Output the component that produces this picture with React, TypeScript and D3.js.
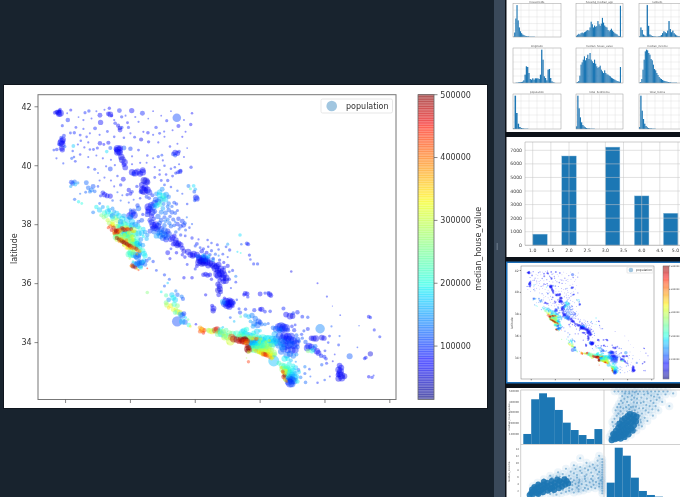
import React from "react";
import * as d3 from "d3";

type Row = number[]; // longitude, latitude, population (hundreds), median_house_value (thousands)

const latTicks = [34, 36, 38, 40, 42];
const lonTicks = [-124, -122, -120, -118, -116, -114];
const cbTicks = [100000, 200000, 300000, 400000, 500000];

const northSparse: Row[] = [
  [-124.22,41.81,40,70],[-124.16,41.78,60,65],[-124.2,41.76,50,75],[-124.17,41.91,15,80],[-124.33,41.8,20,75],[-124.27,41.82,30,60],[-124.19,41.85,20,70],
  [-123.84,41.89,12,80],[-123.4,41.8,12,85],[-123.28,41.86,15,90],[-122.94,41.71,30,75],[-122.92,41.47,35,70],[-122.65,41.95,14,80],[-122.68,41.76,30,70],[-122.62,41.74,40,65],[-122.58,41.7,14,80],
  [-122.34,41.87,28,85],[-122.27,41.66,14,90],[-121.96,41.87,35,80],[-121.63,41.78,30,85],[-120.57,41.63,90,105],[-120.1,41.78,8,80],[-120.52,41.35,20,80],[-120.14,41.4,14,75],[-120.88,41.53,12,85],
  [-121.21,41.3,14,85],[-121.75,41.49,6,90],[-122.09,41.46,10,80],[-122.47,41.44,16,85],[-122.38,41.36,22,75],[-122.32,41.21,30,65],[-122.33,41.28,24,60],[-122.26,41.3,12,90],[-123.93,41.55,25,85],
  [-124.1,41.36,12,90],[-123.68,41.3,10,85],[-123.73,41.12,14,90],[-123.85,41.11,10,90],[-123.09,41.27,18,85],[-122.71,41.16,10,90],[-122.06,41.3,12,85],[-121.46,41.12,16,80],[-121.1,41.1,10,85],
  [-120.96,41.16,6,90],[-121.67,40.89,22,60],[-121.87,40.97,10,85],[-121.44,40.81,14,80],[-121.14,40.79,6,85],[-120.4,40.98,6,80],[-123.55,41.04,10,85],[-123.53,40.85,8,90],[-123.3,40.79,6,85],
  [-122.94,40.76,25,70],[-122.68,40.78,22,75],[-122.82,40.72,10,80],[-123.25,40.55,8,90],[-123.14,40.55,10,90],[-123.02,40.6,12,85],[-122.73,40.48,16,180],[-122.62,40.6,20,105],[-122.2,40.6,30,110],[-122.0,40.58,25,100],
  [-121.75,40.53,10,85],[-121.95,40.32,6,90],[-121.48,40.35,8,85],[-121.14,40.31,14,95],[-121.03,40.36,10,100],[-121.0,40.18,6,85],[-120.78,40.65,8,85],[-120.5,40.05,6,90],[-120.13,39.95,14,85],[-120.47,39.8,28,85],[-120.6,39.75,14,90],
  [-120.7,39.65,10,85],[-121.1,39.85,6,90],[-121.25,39.95,6,85],[-123.76,40.67,18,170],[-123.78,40.5,8,95],[-123.81,40.25,12,110],[-123.7,40.15,10,90],[-123.74,40.3,8,95],[-124.07,40.08,6,95],[-124.28,40.25,6,90],
  [-123.3,39.95,8,90],[-123.1,39.88,12,95],[-122.62,39.89,30,100],[-122.4,39.65,8,90],[-122.8,39.6,6,90],[-122.3,39.35,14,85],[-121.1,39.7,8,85],[-120.85,39.5,14,90],
  [-124.12,40.82,60,75],[-124.08,40.88,45,80],[-124.15,40.78,55,70],[-124.1,40.74,50,80],[-124.13,40.95,20,90],[-124.05,41.02,18,85],[-124.12,40.6,40,75],[-124.1,40.54,35,80],[-124.2,40.72,16,90],[-124.36,40.53,10,95],[-124.27,40.55,16,85],[-124.02,40.65,12,110],
];

const northFine: Row[] = [
  [-123.95,41.78,4,85],[-123.6,41.65,4,90],[-123.45,41.55,6,85],[-123.2,41.6,5,85],[-123.05,41.85,5,90],[-122.8,41.9,5,85],[-122.5,41.55,6,85],[-122.15,41.7,5,90],[-121.85,41.65,5,85],[-121.45,41.6,4,90],[-121.3,41.85,4,85],[-121.05,41.7,4,85],[-120.75,41.85,4,90],[-120.35,41.55,5,85],[-120.7,41.2,5,85],[-120.3,41.15,5,80],[-120.95,40.98,5,85],[-121.3,41.05,6,85],[-121.6,41.15,6,80],[-122.0,41.1,6,85],[-122.2,40.95,8,90],[-122.5,40.98,8,85],[-122.95,41.05,6,90],[-123.25,41.1,6,85],[-123.45,41.25,6,90],[-123.35,40.98,8,85],[-123.62,40.72,6,90],[-123.42,40.62,6,85],[-123.55,40.38,8,85],[-123.3,40.3,5,90],[-123.05,40.35,5,90],[-122.85,40.25,6,85],[-122.6,40.2,6,90],[-122.48,40.02,6,85],[-122.75,39.98,6,90],[-123.0,39.75,5,95],[-122.95,39.5,6,90],[-122.6,39.5,6,85],[-122.5,39.3,5,85],[-121.95,40.05,6,85],[-121.7,40.1,6,85],[-121.5,40.1,5,90],[-121.3,40.25,6,85],[-120.95,40.0,8,90],[-120.75,39.9,8,85],[-120.9,39.7,8,85],[-120.35,40.3,5,85],[-120.25,40.6,4,90],[-120.55,40.75,5,85],[-121.25,39.6,10,90],[-121.05,39.5,10,85],[-120.95,39.35,10,100],[-120.75,39.28,8,95],[-120.55,39.15,8,110],[-120.4,39.05,6,100],[-123.0,39.3,8,95],[-123.55,39.05,6,120],[-122.55,38.82,8,110],[-122.3,38.82,6,110],[-122.05,38.75,6,100],[-122.25,39.0,5,100],[-121.9,38.85,5,100],[-121.7,38.9,8,90],
];

const northDense: Row[] = [
  [-122.4,40.58,70,70],[-122.36,40.52,80,65],[-122.4,40.46,60,80],[-122.33,40.45,50,75],[-122.44,40.55,30,80],[-122.32,40.6,40,70],[-122.28,40.3,50,65],[-122.25,40.2,60,60],[-122.18,40.12,50,70],[-122.2,40.03,30,70],[-122.16,39.94,40,75],[-122.22,39.54,30,65],
  [-121.95,39.78,50,80],[-121.85,39.75,60,70],[-121.78,39.8,50,75],[-121.7,39.73,45,80],[-121.62,39.78,55,70],[-121.62,39.85,40,80],[-121.9,39.72,30,85],[-121.58,39.5,60,55],[-121.52,39.48,65,60],[-121.48,39.44,45,65],[-121.65,39.35,40,70],
  [-121.62,39.18,75,65],[-121.58,39.14,80,60],[-121.55,39.25,60,70],[-121.48,39.18,60,70],[-121.42,39.1,45,85],[-121.68,39.12,25,85],[-122.05,39.18,25,70],[-122.0,39.05,20,75],[-121.8,39.3,14,85],[-121.95,39.12,16,85],[-122.1,39.02,14,90],
  [-123.82,39.44,30,100],[-123.78,39.4,30,110],[-123.72,39.46,24,120],[-123.7,39.36,20,160],[-123.62,39.42,12,140],[-123.84,39.3,14,150],[-123.36,39.42,30,120],[-123.2,39.18,30,130],[-123.3,39.25,28,120],[-123.15,39.3,30,110],[-123.25,39.12,18,130],[-123.1,39.13,16,120],[-123.38,39.1,10,115],
  [-122.85,39.08,28,85],[-122.8,39.02,35,70],[-122.72,38.98,32,75],[-122.62,38.97,32,70],[-122.92,38.98,14,90],[-122.4,39.1,6,110],[-123.6,38.78,14,190],[-123.72,38.86,14,115],[-123.5,38.72,10,200],
  [-120.21,39.31,20,130],[-120.05,39.32,18,180],[-120.0,39.2,16,160],[-120.15,39.22,12,220],[-120.03,39.12,18,110],[-119.98,38.92,45,85],[-119.95,38.88,40,90],[-120.02,38.82,14,105],[-120.25,38.7,8,95],
  [-120.63,39.95,8,90],[-120.62,40.45,40,75],[-120.55,40.42,35,70],[-120.68,40.4,25,90],[-120.62,40.35,20,100],[-120.5,40.48,16,85],[-120.45,39.83,18,85],[-120.53,39.78,18,85],
];

const sierraFoothills: Row[] = [
  [-121.5,38.95,20,100],[-121.42,38.9,16,90],[-121.32,39.0,20,95],[-121.2,39.05,25,140],[-121.1,39.1,35,170],[-121.02,39.2,30,140],[-121.1,39.0,45,180],[-120.98,38.98,50,190],[-120.9,39.02,40,150],[-120.82,38.95,25,130],[-121.0,38.88,45,220],[-120.92,38.85,40,170],[-121.08,38.85,45,160],[-121.15,38.78,50,130],[-121.22,38.85,40,110],[-121.25,38.72,60,100],[-121.35,38.65,60,90],[-121.45,38.6,70,75],[-121.42,38.52,65,80],[-121.3,38.6,60,115],[-121.2,38.65,45,180],[-121.1,38.7,40,210],
  [-121.33,38.42,55,85],[-121.45,38.45,45,75],[-121.48,38.35,35,85],[-121.25,38.45,30,100],[-121.35,38.3,35,80],[-121.28,38.2,25,90],[-121.4,38.15,30,85],
  [-122.02,38.3,65,85],[-121.95,38.38,60,80],[-121.88,38.32,60,90],[-121.9,38.45,40,95],[-121.75,38.55,35,120],[-121.78,38.65,24,100],[-122.0,38.5,14,110],[-121.65,38.15,28,110],[-121.75,38.1,22,115],[-121.62,38.35,12,90],
  [-121.22,38.0,60,80],[-121.3,37.98,65,70],[-121.25,37.9,60,60],[-121.18,37.85,40,85],[-121.32,37.88,30,85],[-121.1,38.05,30,110],[-121.4,37.78,30,100],[-121.28,37.75,30,120],
  [-120.98,38.7,20,130],[-120.82,38.72,24,125],[-120.72,38.62,14,115],[-120.65,38.75,18,105],[-120.58,38.7,16,100],[-120.82,38.5,25,115],[-120.72,38.42,28,105],[-120.62,38.4,20,110],[-120.55,38.48,12,100],[-120.92,38.4,30,120],[-120.95,38.25,20,105],[-120.78,38.28,16,105],[-120.68,38.18,20,105],[-120.52,38.2,24,95],[-120.4,38.12,30,100],[-120.36,37.98,30,95],[-120.45,37.95,26,100],[-120.55,38.02,25,95],[-120.32,38.05,18,110],[-120.65,37.98,18,110],[-120.8,38.05,24,125],[-120.92,38.12,18,130],[-120.95,37.98,24,120],[-120.3,37.82,12,105],[-120.18,37.9,8,90],[-120.1,38.02,6,110],[-120.26,38.25,6,120],[-120.62,38.1,8,120],
  [-121.02,37.7,55,110],[-120.95,37.65,60,120],[-120.88,37.6,55,130],[-120.82,37.68,50,100],[-121.08,37.62,45,140],[-121.0,37.55,45,110],[-120.9,37.5,40,90],[-120.85,37.78,35,90],[-121.15,37.7,30,125],[-120.75,37.5,35,75],[-120.7,37.55,40,70],
  [-121.15,37.95,55,90],[-121.35,38.08,45,85],[-121.05,37.85,50,100],[-120.95,37.8,55,115],[-121.1,37.75,45,130],[-121.2,37.62,35,150],[-120.65,37.62,30,75],[-120.6,37.48,40,70],[-120.75,37.95,25,115],[-120.6,37.75,16,110],[-120.45,37.65,14,95],[-120.5,37.85,12,110],[-120.85,38.18,20,125],[-121.05,38.15,30,110],[-121.15,38.28,35,115],[-121.05,38.42,30,130],[-120.85,38.62,20,125],[-121.0,38.55,28,150],
];

const centralValley: Row[] = [
  [-120.6,37.38,55,70],[-120.52,37.36,50,65],[-120.55,37.3,45,60],[-120.45,37.32,40,75],[-120.4,37.2,30,70],[-120.68,37.34,28,70],[-120.35,37.1,30,60],[-120.22,37.08,50,65],[-120.15,36.98,45,70],[-120.05,37.0,55,70],[-120.08,36.95,45,65],[-120.32,36.9,16,70],[-120.58,37.05,16,70],[-120.75,37.18,10,90],[-120.85,37.05,30,80],[-120.78,36.85,12,75],[-120.4,36.98,14,80],
  [-119.95,36.98,45,75],[-119.88,36.88,50,70],[-119.85,36.8,75,60],[-119.78,36.78,90,60],[-119.72,36.8,80,65],[-119.8,36.72,90,55],[-119.72,36.72,75,60],[-119.65,36.74,70,70],[-119.9,36.72,55,65],[-119.78,36.85,70,90],[-119.7,36.86,60,100],[-119.62,36.82,50,110],[-119.55,36.7,55,70],[-119.6,36.62,45,75],[-119.48,36.66,60,60],[-119.42,36.6,60,65],[-119.34,36.58,50,70],[-119.28,36.65,40,75],[-119.38,36.52,70,60],[-119.3,36.45,50,65],[-119.22,36.5,60,70],[-119.15,36.42,50,60],[-119.22,36.35,75,65],[-119.32,36.33,80,60],[-119.28,36.27,70,70],[-119.12,36.3,60,65],[-119.05,36.2,55,65],[-119.15,36.2,60,65],[-119.06,36.1,50,60],[-119.13,36.08,40,65],[-119.25,36.1,25,70],[-119.68,36.32,30,70],[-119.75,36.3,24,75],[-119.62,36.28,30,70],[-119.55,36.3,25,70],[-120.0,36.5,12,90],[-120.25,36.65,10,85],[-119.95,36.6,20,75],[-119.5,36.15,14,65],[-120.35,36.2,14,75],[-120.1,36.2,16,70],
  [-119.3,35.98,35,60],[-119.25,35.92,40,70],[-119.24,35.82,45,60],[-119.3,35.78,40,55],[-119.22,35.72,30,60],[-119.28,35.62,28,70],[-119.44,35.16,45,65],[-119.45,35.08,35,60],[-119.48,35.25,20,70],[-119.68,35.62,14,75],[-119.1,35.5,16,80],[-119.05,35.38,85,70],[-118.98,35.33,90,65],[-119.02,35.28,80,70],[-118.92,35.33,80,60],[-118.88,35.38,60,75],[-118.95,35.4,70,80],[-119.1,35.32,60,95],[-119.15,35.38,40,150],[-118.95,35.22,50,75],[-118.85,35.25,25,80],[-118.8,35.35,18,85],[-118.72,35.45,8,95],
  [-118.65,35.15,12,90],[-118.45,35.13,14,95],[-118.46,35.67,30,70],[-118.4,35.65,28,70],[-118.5,35.62,16,80],[-118.38,35.55,14,85],[-118.2,36.67,12,90],[-118.08,36.67,14,95],[-118.33,36.97,14,85],[-118.3,36.82,8,90],[-118.41,37.36,20,85],[-118.37,37.34,20,85],[-118.62,37.65,16,180],[-118.58,37.34,8,110],[-118.94,37.14,14,90],[-119.0,37.34,12,150],[-119.32,37.32,12,85],[-119.15,37.0,10,95],[-119.05,37.25,10,100],
  [-119.62,37.48,8,90],[-119.5,37.38,8,95],[-119.9,37.5,6,85],[-119.28,36.95,6,130],[-119.0,36.9,6,90],[-118.7,37.08,6,180],[-118.6,37.04,4,200],[-119.72,36.98,14,95],[-119.55,36.98,16,100],[-119.38,37.0,12,110],[-119.5,37.12,12,95],[-119.28,37.16,8,95],[-119.75,37.18,14,90],[-119.85,37.22,10,100],[-120.0,37.28,12,100],[-118.9,35.85,6,90],[-118.75,36.25,12,130],[-118.95,36.4,10,95],[-118.95,36.15,14,85],
  [-118.0,35.65,30,75],[-117.71,35.64,35,65],[-117.67,35.6,30,70],[-117.75,35.68,20,85],[-117.85,35.68,12,85],[-117.95,35.13,35,70],[-118.0,35.13,24,80],[-118.18,35.1,22,85],[-117.85,35.05,16,85],[-117.69,35.06,16,90],
  [-120.31,37.62,10,90],[-120.1,37.55,14,85],[-119.95,37.35,18,90],[-119.8,37.1,25,75],[-119.65,37.05,20,80],[-119.6,37.25,8,90],[-119.45,36.85,16,90],[-119.25,36.8,14,85],[-119.12,36.72,12,80],[-119.0,36.6,22,75],[-118.85,36.45,12,90],[-118.75,36.05,10,90],[-119.1,36.55,16,85],[-119.92,36.92,30,120],[-119.6,36.92,25,170],[-119.75,36.95,25,160],[-119.45,36.8,20,140],
];

const mojaveEast: Row[] = [
  [-117.28,35.16,20,90],[-117.2,34.95,40,70],[-117.08,34.9,55,65],[-117.0,34.9,40,60],[-116.98,35.0,16,95],[-116.85,35.03,25,85],[-116.7,34.88,18,90],[-116.53,34.86,14,100],[-116.53,34.46,20,85],[-116.15,34.47,110,135],[-116.35,34.14,45,60],[-116.28,34.14,50,65],[-116.42,34.15,35,65],[-116.1,34.17,40,60],[-116.03,34.15,35,65],[-115.86,34.22,10,85],[-115.8,34.55,6,110],[-116.5,33.88,60,70],[-116.55,33.82,55,85],[-116.42,33.85,50,90],[-116.35,33.78,45,110],[-116.25,33.71,50,75],[-116.2,33.65,40,70],[-116.4,33.72,35,200],[-116.52,33.72,30,260],[-116.3,33.88,25,120],[-116.12,33.55,25,85],[-116.02,33.52,22,90],[-115.97,33.45,16,85],[-115.76,33.37,5,60],[-115.95,33.3,12,90],[-116.1,33.25,14,110],[-115.58,33.92,10,95],[-115.55,34.22,6,110],[-115.24,33.54,45,115],[-115.0,33.84,4,100],[-114.6,33.62,35,55],[-114.74,33.49,16,80],[-114.78,33.46,14,85],[-114.65,34.88,18,80],[-114.6,34.85,14,85],[-114.48,34.43,12,85],[-114.31,34.2,12,90],[-114.95,34.57,3,100],[-115.53,34.93,4,90],[-115.77,35.24,2,90],[-115.94,35.56,6,85],[-116.23,36.01,5,70],[-117.04,36.41,8,60],[-115.55,33.22,40,80],[-115.5,33.15,45,70],[-115.58,33.08,55,65],[-115.52,33.02,60,70],[-115.55,32.95,55,70],[-115.5,32.88,70,65],[-115.48,32.8,60,70],[-115.58,32.78,50,60],[-115.4,32.86,40,60],[-115.6,32.9,30,75],[-114.65,32.84,16,80],[-114.55,32.82,14,85],[-114.5,32.88,5,90],[-116.01,32.73,8,105],[-116.23,32.64,8,90],[-115.85,32.85,5,85],[-116.45,32.85,5,110],[-116.6,32.65,16,120],[-116.75,32.82,16,130],[-116.62,32.95,12,110],[-116.82,33.07,18,115],[-116.62,33.18,14,130],[-116.48,33.1,8,100],[-116.9,33.35,6,140],
  [-116.0,33.72,10,90],[-115.7,33.6,4,85],[-115.9,34.0,8,90],[-116.7,34.15,14,110],[-116.72,34.28,14,95],[-116.6,34.02,25,110],[-116.8,34.05,18,120],[-116.88,34.25,20,115],[-116.65,34.4,12,100],[-116.95,34.42,22,85],[-117.02,34.55,16,85],[-116.92,34.6,10,90],
];

const socalBlue: Row[] = [
  [-117.42,34.52,90,85],[-117.35,34.53,110,90],[-117.28,34.5,100,85],[-117.2,34.5,70,85],[-117.5,34.45,60,110],[-117.32,34.45,60,95],[-117.4,34.42,40,130],[-117.6,34.5,30,120],[-117.15,34.42,30,95],
  [-118.62,35.02,22,100],[-118.45,34.92,25,160],[-118.35,34.88,30,170],[-118.25,34.92,35,130],[-118.15,34.82,35,125],[-118.05,34.72,40,110],[-118.18,34.65,45,130],[-118.08,34.6,50,120],[-118.0,34.68,30,105],[-118.3,34.72,16,150],[-118.22,34.55,28,150],[-117.95,34.62,22,120],[-117.85,34.62,18,130],[-117.75,34.65,12,115],
  [-117.55,34.28,50,160],[-117.4,34.22,70,100],[-117.25,34.22,80,85],[-117.15,34.18,90,75],[-117.05,34.2,80,85],[-117.3,34.12,100,90],[-117.18,34.1,90,85],[-117.08,34.1,80,90],[-116.97,34.06,70,95],[-116.85,34.1,40,110],[-116.9,33.98,70,85],[-116.98,33.92,90,100],[-117.05,33.95,70,110],[-117.12,33.93,90,105],[-117.25,33.98,85,110],[-117.35,34.02,75,130],[-117.22,33.88,70,95],[-117.28,33.78,60,100],[-117.15,33.75,50,95],[-117.02,33.75,70,90],[-116.92,33.75,60,85],[-116.85,33.85,30,110],[-117.08,33.62,50,115],[-117.18,33.58,55,125],[-116.98,33.55,40,130],[-117.35,33.7,50,120],[-117.42,33.92,70,130],[-117.48,34.0,65,150],[-117.55,34.05,60,190],[-117.32,33.85,55,145],[-117.25,33.45,45,190],[-117.15,33.45,30,185],[-117.05,33.4,18,165],[-116.88,33.6,20,140],
  [-118.1,34.38,40,170],[-118.2,34.33,30,190],[-118.0,34.4,16,180],[-118.42,34.45,35,200],[-118.5,34.4,50,190],[-118.55,34.35,50,180],
];

const socalMid: Row[] = [
  [-118.8,34.72,8,165],[-118.92,34.85,10,110],[-119.15,34.52,8,170],[-119.25,34.38,40,210],[-119.1,34.25,60,220],[-119.0,34.2,70,230],[-118.85,34.28,60,230],[-118.72,34.28,70,210],[-118.58,34.25,80,210],[-118.45,34.25,90,190],[-118.35,34.22,80,170],[-118.25,34.2,70,190],[-118.15,34.18,60,230],[-118.05,34.17,55,190],[-117.92,34.15,80,200],[-117.8,34.12,85,180],[-117.72,34.12,80,190],[-117.62,34.1,80,170],[-117.5,34.12,60,140],[-117.95,34.07,85,170],[-118.05,34.07,90,190],[-118.15,34.05,95,180],[-118.25,34.05,95,160],[-118.32,34.05,90,210],[-118.42,34.05,70,260],[-118.55,34.17,90,230],[-118.65,34.17,60,260],[-118.4,34.15,70,260],[-118.3,34.12,60,300],
  [-118.3,33.95,100,150],[-118.22,33.95,100,135],[-118.12,33.95,95,165],[-118.02,33.95,90,180],[-117.92,33.95,90,200],[-117.82,33.95,85,230],[-117.72,33.98,80,200],[-117.62,33.98,75,170],[-118.25,33.85,95,170],[-118.15,33.85,90,190],[-118.05,33.85,90,210],[-117.95,33.85,90,230],[-117.85,33.85,90,240],[-117.75,33.85,70,290],[-117.65,33.88,60,240],[-118.3,33.78,65,250],[-118.18,33.78,80,230],[-118.08,33.76,80,260],[-117.98,33.75,95,240],[-117.88,33.75,105,220],[-117.78,33.75,85,280],[-117.68,33.72,60,300],[-117.6,33.65,70,270],[-117.72,33.62,70,310],[-117.82,33.66,75,310],[-117.92,33.68,75,320],[-118.0,33.7,50,310],[-117.62,33.55,50,320],[-117.55,33.6,30,260],[-117.58,33.38,150,165],
  [-117.42,33.3,30,220],[-117.32,33.22,50,230],[-117.25,33.18,60,200],[-117.18,33.15,50,220],[-117.3,33.1,60,270],[-117.22,33.08,70,240],[-117.15,33.08,70,210],[-117.05,33.1,60,200],[-116.98,33.02,60,180],[-117.15,33.0,70,230],[-117.25,33.0,60,320],[-117.1,32.95,75,190],[-117.02,32.9,50,170],[-116.92,32.95,30,160],[-117.18,32.9,70,240],[-117.12,32.85,70,180],[-117.05,32.8,75,140],[-116.95,32.8,70,150],[-116.88,32.85,40,175],[-117.18,32.78,70,230],[-117.1,32.75,80,120],[-117.02,32.72,85,110],[-116.95,32.7,60,120],[-117.12,32.68,75,100],[-117.08,32.62,90,90],[-117.02,32.6,60,110],[-116.85,32.68,25,190],[-116.8,33.0,20,180],[-116.9,33.15,30,170],[-116.98,33.22,24,190],[-117.1,33.28,30,190],
  [-118.6,34.88,10,240],[-119.45,34.42,5,200],[-119.0,33.98,3,270],
];

const centralCoast: Row[] = [
  [-121.72,36.75,25,135],[-121.62,36.72,30,160],[-121.55,36.65,25,120],[-121.42,36.85,18,130],[-121.3,36.75,14,100],[-121.2,36.45,10,100],[-120.95,36.3,14,100],[-120.8,36.15,12,105],
  [-120.85,36.02,8,170],[-121.05,35.72,10,190],[-120.95,35.92,12,110],[-121.48,35.7,16,260],[-120.9,35.6,22,230],[-120.82,35.45,28,145],[-120.72,35.62,35,170],[-120.68,35.52,40,190],[-120.62,35.45,40,175],[-120.55,35.62,25,120],[-120.42,35.56,22,130],[-120.38,35.48,22,110],[-120.6,35.75,14,130],[-120.9,35.35,30,250],[-120.88,35.28,32,290],[-120.75,35.25,30,330],[-120.65,35.3,35,210],[-120.55,35.25,30,260],[-120.82,35.18,18,340],[-120.68,35.12,30,320],[-120.6,35.12,25,300],[-120.55,35.05,40,280],[-120.48,35.02,40,330],[-120.62,35.02,28,230],[-120.45,34.95,45,160],[-120.4,34.92,45,120],[-120.35,34.98,30,100],[-120.3,34.85,12,180],[-120.56,34.72,130,105],[-120.4,34.72,50,170],[-120.32,34.7,40,120],[-120.2,34.6,25,210],[-120.22,34.78,8,240],
];

const santaBarbara: Row[] = [
  [-119.98,34.62,8,70],[-120.15,34.55,8,330],[-119.85,34.5,30,370],[-119.8,34.45,35,400],[-119.78,34.42,40,340],[-119.72,34.42,25,430],[-119.85,34.38,24,420],[-119.75,34.33,16,450],[-119.6,34.42,30,280],[-119.55,34.4,40,300],[-119.48,34.38,40,330],[-119.42,34.42,40,250],[-119.38,34.42,50,440],[-119.33,34.45,45,470],[-119.3,34.35,25,360],[-119.22,34.42,45,200],[-119.2,34.3,60,180],[-119.3,34.3,50,240],[-119.15,34.35,50,290],[-119.05,34.42,30,230],[-119.1,34.18,50,300],[-118.95,34.32,40,260],[-118.88,34.18,60,420],[-118.92,34.05,95,310],[-118.82,34.12,60,480],[-118.72,34.1,50,500],[-118.65,34.05,40,470],[-118.6,34.1,50,470],
];

const socalRed: Row[] = [
  [-118.52,34.07,60,500],[-118.48,34.12,50,490],[-118.45,34.1,40,500],[-118.4,34.07,35,500],[-118.55,34.05,50,480],[-118.48,34.02,50,430],[-118.42,33.98,30,370],[-118.4,34.03,35,420],[-118.4,33.88,30,460],[-118.36,33.82,40,500],[-118.4,33.78,50,490],[-118.32,33.75,30,450],[-118.38,33.72,35,500],[-118.35,33.68,18,300],
  [-118.25,34.12,16,340],[-118.18,34.15,20,350],[-118.12,34.12,20,430],[-118.08,34.15,16,370],[-117.98,34.12,16,320],[-118.02,34.02,16,300],[-117.82,34.02,12,300],[-117.72,34.07,12,330],[-118.2,33.75,16,320],[-118.12,33.72,20,360],[-118.05,33.68,18,340],[-117.98,33.66,20,350],[-117.9,33.62,28,420],[-117.85,33.6,28,470],[-117.82,33.58,25,440],[-117.92,33.58,14,380],[-117.78,33.55,22,420],[-117.7,33.5,22,400],[-117.65,33.46,18,340],[-117.75,33.62,16,360],[-117.68,33.55,20,340],[-117.62,33.48,14,330],
  [-118.36,33.35,14,430],[-118.42,33.48,3,280],
  [-117.3,33.02,18,440],[-117.28,32.98,14,400],[-117.25,32.88,22,500],[-117.28,32.84,25,470],[-117.25,32.78,18,400],[-117.22,32.72,14,350],[-117.18,32.68,10,390],[-117.22,32.95,16,340],[-117.2,33.05,14,320],[-117.35,33.15,12,340],
];

const bayBase: Row[] = [
  [-123.15,38.42,18,130],[-123.05,38.6,25,190],[-122.95,38.5,35,170],[-122.85,38.6,20,150],[-122.95,38.72,10,120],[-122.8,38.4,35,210],[-122.7,38.45,40,180],[-122.75,38.3,30,230],[-122.6,38.35,40,200],[-122.65,38.5,25,160],[-122.55,38.3,40,130],[-122.5,38.45,20,150],[-122.82,38.25,25,260],[-122.9,38.32,20,250],[-122.7,38.6,14,200],[-122.55,38.55,18,140],[-122.42,38.38,35,170],
  [-122.55,38.2,30,200],[-122.45,38.25,35,240],[-122.4,38.15,40,280],[-122.55,38.1,30,300],[-122.35,38.3,40,180],[-122.25,38.2,45,190],[-122.2,38.05,40,230],[-122.1,38.15,50,170],[-122.0,38.25,40,140],[-121.95,38.1,45,170],[-122.3,38.0,50,180],[-122.3,38.1,40,150],[-122.2,38.3,30,150],
  [-122.15,37.98,50,210],[-122.05,37.95,50,190],[-121.95,37.98,45,160],[-121.85,38.0,45,140],[-121.78,37.95,40,170],[-121.72,37.88,30,210],[-122.0,37.88,50,220],[-121.9,37.82,50,280],[-122.1,37.8,50,260],[-122.2,37.78,60,150],[-122.15,37.7,65,200],[-122.05,37.68,70,190],[-121.95,37.68,60,240],[-121.85,37.7,60,220],[-121.75,37.7,50,170],[-121.65,37.72,40,170],[-121.55,37.75,25,150],[-121.6,37.6,14,190],[-122.25,37.72,60,170],[-122.15,37.6,70,210],[-122.05,37.58,70,230],[-121.95,37.55,70,260],[-122.0,37.48,50,280],
  [-122.45,37.72,60,300],[-122.42,37.66,65,270],[-122.38,37.62,60,260],[-122.45,37.58,50,240],[-122.3,37.55,60,290],[-122.42,37.5,30,300],[-122.25,37.48,50,310],[-122.18,37.42,50,350],[-122.1,37.38,55,290],[-122.02,37.35,60,320],[-121.92,37.42,70,270],[-121.85,37.38,75,210],[-121.9,37.32,70,240],[-121.82,37.3,80,190],[-121.75,37.25,65,180],[-121.95,37.25,70,290],[-122.05,37.25,40,370],[-121.85,37.22,65,250],[-121.7,37.35,25,130],[-121.62,37.12,35,200],[-121.58,37.02,40,180],[-121.7,37.15,30,230],[-121.55,36.95,35,190],[-122.0,37.15,35,280],[-122.12,37.22,20,330],[-121.88,37.12,30,280],[-122.2,37.3,14,340],
  [-122.05,37.0,50,220],[-121.98,36.98,55,210],[-121.9,36.98,50,170],[-121.82,36.95,60,140],[-121.78,36.9,60,120],[-122.02,37.05,35,210],[-121.75,36.98,45,115],[-121.72,37.02,30,160],[-121.92,37.05,30,260],[-121.88,36.65,55,140],[-121.82,36.62,60,170],[-121.78,36.68,50,110],[-121.72,36.7,40,120],[-121.65,36.72,45,100],[-121.7,36.62,45,130],[-121.58,36.78,30,170],[-121.92,36.75,8,200],[-122.02,36.85,8,280],[-121.68,36.55,25,190],[-121.5,36.78,20,105],
  [-122.7,38.15,25,300],[-122.65,38.05,30,280],[-122.55,38.02,30,320],[-122.45,37.95,35,300],[-122.38,37.95,35,250],[-122.32,37.92,40,200],[-122.3,37.85,50,220],[-122.4,37.75,50,270],[-122.2,37.88,40,280],[-122.12,37.9,30,330],
  [-122.25,37.62,45,250],[-122.1,37.55,45,260],[-122.12,37.7,40,230],[-121.98,37.42,45,240],[-121.8,37.5,40,200],[-121.78,37.35,50,170],[-121.68,37.5,30,140],[-121.62,37.3,30,150],[-121.5,37.52,25,160],[-121.48,37.65,25,140],[-121.6,37.85,25,180],
];

const bayRed: Row[] = [
  [-122.55,37.97,22,340],[-122.62,37.95,20,420],[-122.52,37.9,24,480],[-122.68,37.9,14,430],[-122.58,37.82,20,460],[-122.48,37.78,35,420],[-122.42,37.76,40,470],[-122.38,37.78,35,440],[-122.44,37.8,30,500],[-122.34,37.82,30,420],[-122.26,37.88,25,450],[-122.22,37.84,30,500],[-122.16,37.82,25,440],[-122.1,37.85,22,460],[-122.05,37.83,22,420],[-121.98,37.85,20,480],[-121.94,37.78,18,350],[-122.3,37.78,20,350],[-122.5,37.7,14,430],
  [-122.42,37.55,22,480],[-122.35,37.5,25,500],[-122.3,37.47,25,490],[-122.25,37.43,28,500],[-122.2,37.4,28,500],[-122.15,37.38,28,480],[-122.1,37.34,25,500],[-122.05,37.3,25,470],[-122.0,37.27,28,480],[-121.95,37.23,25,440],[-121.88,37.22,22,420],[-121.82,37.18,22,470],[-121.78,37.13,22,400],[-121.72,37.1,18,380],[-122.28,37.52,18,360],[-122.35,37.42,10,380],[-122.22,37.3,8,300],[-122.12,37.48,16,380],
  [-122.18,37.65,18,310],[-122.05,37.72,18,330],[-121.88,37.78,16,340],[-121.95,37.6,18,320],[-121.92,37.48,18,330],[-122.0,37.2,10,360],[-121.8,37.0,10,360],[-121.95,36.62,25,420],[-121.92,36.58,25,500],[-121.85,36.55,20,460],[-121.98,36.6,12,380],[-121.8,36.5,10,340],[-121.75,36.46,6,430],[-121.48,36.52,4,450],
];

const rowsByLayer: Row[][] = [northSparse, northFine, northDense, sierraFoothills, centralValley, mojaveEast, socalBlue, socalMid, bayBase, centralCoast, santaBarbara, socalRed, bayRed];
const housing: Row[] = rowsByLayer.flat();

// histogram panels (percent of the tallest bar, read from the thumbnails)
const histTitles = ["households","housing_median_age","latitude","longitude","median_house_value","median_income","population","total_bedrooms","total_rooms"];
const histHouseholds = [1,14,58,100,52,30,18,12,8,6,4,3,2,2,1,1,1,1,1,0,0,0,0,0,0,0,0,0,0,0,0,0,0,0,0,0,0,0,0,0];
const histAge = [4,7,10,8,12,14,12,15,17,20,22,20,30,48,40,30,36,32,34,50,40,35,42,60,45,36,32,30,22,18,22,26,20,16,12,10,8,4,3,98];
const histLatitude = [2,30,22,8,5,3,100,35,8,5,3,2,2,1,1,2,3,6,12,18,15,12,20,50,25,15,20,12,8,5,3,2,2,1,1,1];
const histLongitude = [0,0,1,1,2,3,3,4,8,25,50,48,30,12,10,14,10,14,14,14,12,25,100,70,20,15,8,40,42,15,5,2,1,0,0,0];
const histValue = [1,3,6,22,55,62,70,80,68,75,85,72,90,70,65,60,70,58,50,45,48,52,40,35,30,38,30,26,25,22,20,16,14,12,10,8,6,5,4,48];
const histIncome = [1,3,12,40,70,95,100,98,90,85,72,68,55,42,38,30,24,18,14,12,9,7,6,5,4,3,2,2,1,1,1,1,1,0,0,0,0,0,0,1];
const histPopulation = [2,100,48,16,6,3,2,1,1,1,0,0,0,0,0,0,0,0,0,0,0,0,0,0,0,0,0,0,0,0];
const histBedrooms = [8,100,62,35,20,12,8,5,3,2,2,1,1,1,1,0,0,0,0,0,0,0,0,0,0,0,0,0,0,0,0,0,0,0,0,0];
const histRooms = [6,100,55,30,16,9,5,3,2,2,1,1,1,0,0,0,0,0,0,0,0,0,0,0,0,0,0,0,0,0,0,0,0,0,0,0];
const histGrid: number[][] = [histHouseholds, histAge, histLatitude, histLongitude, histValue, histIncome, histPopulation, histBedrooms, histRooms];

// income_cat bar chart
const incomeBinStart = [1.0, 1.8, 3.0, 3.8, 4.6];
const incomeBinCount = [822, 6581, 7236, 3639, 2362];
const incomeXTicks = [1.0, 1.5, 2.0, 2.5, 3.0, 3.5, 4.0, 4.5, 5.0];
const incomeYTicks = [0, 1000, 2000, 3000, 4000, 5000, 6000, 7000];

// scatter matrix
const valueHistCounts = [940, 4190, 4750, 4375, 3190, 2000, 1310, 840, 470, 1400];
const incomeHistCounts = [2300, 7436, 6262, 3033, 1076, 489, 245, 100];
const matrixCore: number[][] = [
  [1.0,40],[1.3,60],[1.6,50],[1.6,85],[2.0,60],[2.0,100],[1.8,125],[2.3,70],[2.4,115],[2.2,155],[2.8,80],[2.8,125],[2.7,170],[2.4,195],[3.2,90],[3.2,140],[3.1,185],[2.9,225],[3.6,110],[3.6,155],[3.6,200],[3.4,245],[4.0,130],[4.0,175],[4.0,220],[3.9,265],[4.5,150],[4.5,200],[4.5,245],[4.3,285],[5.0,180],[5.0,230],[5.0,275],[5.4,215],[5.5,260],[4.0,95],[4.8,130],[2.6,55],[3.3,70],[1.3,95],
];
const matrixHalo: number[][] = [
  [0.6,70],[0.9,100],[1.2,120],[1.3,170],[1.1,210],[1.7,190],[1.5,240],[1.9,270],[1.7,320],[2.2,290],[2.0,350],[2.3,380],[2.6,310],[2.6,350],[2.7,410],[2.9,455],[3.1,340],[3.0,390],[3.3,430],[3.4,480],[3.6,350],[3.8,400],[3.9,445],[4.1,370],[4.2,480],[4.5,350],[4.6,420],[4.7,460],[5.0,395],[5.1,440],[5.2,490],[5.6,390],[5.6,430],[5.8,475],[6.2,230],[6.3,390],[6.4,440],[6.5,290],[6.7,340],[6.8,400],[6.9,470],[7.0,250],[7.2,320],[7.3,370],[7.4,430],[7.6,480],[7.7,300],[7.9,360],[8.1,410],[8.2,460],[8.4,330],[8.6,390],[8.7,450],[9.0,360],[9.2,420],[9.4,470],[9.7,440],[3.5,60],[4.5,90],[5.5,130],[6.5,170],[7.5,220],[8.5,270],[9.5,320],[10.2,400],[10.8,470],[11.5,360],[12.2,480],
  [3.8,310],[4.2,330],[4.7,310],[5.2,320],[5.7,300],[6.0,340],[6.1,270],[5.9,180],[5.5,175],[6.3,210],[3.0,290],[2.5,250],[4.9,355],[5.4,355],
  [1.5,500],[2.2,500],[2.9,500],[3.5,500],[4.2,500],[4.8,500],[5.5,500],[6.1,500],[6.8,500],[7.5,500],[8.2,500],[8.9,500],[9.6,500],[10.4,500],[11.2,500],
];
const matrixTickValue = [100000, 200000, 300000, 400000, 500000];
const matrixTickIncome = [2, 4, 6, 8, 10, 12, 14];

const jetR = d3.scaleLinear<number>().domain([0, 0.35, 0.66, 0.89, 1]).range([0, 0, 1, 1, 0.5]).clamp(true);
const jetG = d3.scaleLinear<number>().domain([0, 0.125, 0.375, 0.64, 0.91, 1]).range([0, 0, 1, 1, 0, 0]).clamp(true);
const jetB = d3.scaleLinear<number>().domain([0, 0.11, 0.34, 0.65, 1]).range([0.5, 1, 1, 0, 0]).clamp(true);
const jet = (t: number) => `rgb(${Math.round(jetR(t) * 255)},${Math.round(jetG(t) * 255)},${Math.round(jetB(t) * 255)})`;
const cNorm = d3.scaleLinear().domain([15000, 500000]).range([0, 1]);
const BLUE = "#1f77b4";
const FONT = "'DejaVu Sans', sans-serif";
const INK = "#333";

function MapPanel({ left, right, top, bottom, rMax, cbX, cbW, fs, cbFs, tickLen, legend, opacity, showCbLabel }: any) {
  const x = d3.scaleLinear().domain([-124.85, -113.81]).range([left, right]);
  const y = d3.scaleLinear().domain([32.07, 42.41]).range([bottom, top]);
  const r = d3.scaleSqrt().domain([0, 357]).range([0, rMax]);
  const cy = d3.scaleLinear().domain([15000, 500000]).range([bottom, top]);
  const bands = d3.range(0, 128).map((i) => 15000 + (i * 485000) / 128);
  const bandH = (bottom - top) / 128;
  return (
    <g fontFamily={FONT} fill={INK}>
      <g>
        {housing.map((d, i) => (
          <circle key={i} cx={x(d[0])} cy={y(d[1])} r={r(d[2])} fill={jet(cNorm(d[3] * 1000))} opacity={opacity} />
        ))}
      </g>
      <rect x={left} y={top} width={right - left} height={bottom - top} fill="none" stroke="#777" strokeWidth={fs > 5 ? 1 : 0.5} />
      {latTicks.map((t) => (
        <g key={t}>
          <line x1={left - tickLen} x2={left} y1={y(t)} y2={y(t)} stroke="#555" strokeWidth={0.7} />
          <text x={left - tickLen - 0.35 * fs} y={y(t)} dy="0.35em" textAnchor="end" fontSize={fs}>{t}</text>
        </g>
      ))}
      {lonTicks.map((t) => (
        <line key={t} x1={x(t)} x2={x(t)} y1={bottom} y2={bottom + tickLen} stroke="#555" strokeWidth={0.7} />
      ))}
      <text transform={`translate(${left - fs * 2.6},${(top + bottom) / 2 + fs * 0.2}) rotate(-90)`} textAnchor="middle" fontSize={fs}>latitude</text>
      <g>
        <rect x={legend.x} y={legend.y} width={legend.w} height={legend.h} rx={fs * 0.2} fill="#fff" stroke="#ddd" strokeWidth={0.7} />
        <circle cx={legend.x + legend.w * 0.15} cy={legend.y + legend.h / 2} r={legend.h * 0.38} fill={BLUE} opacity={0.42} />
        <text x={legend.x + legend.w * 0.35} y={legend.y + legend.h / 2} dy="0.35em" fontSize={fs}>population</text>
      </g>
      <g>
        {bands.map((b, i) => (
          <rect key={i} x={cbX} y={cy(b) - bandH * 1.25} width={cbW} height={bandH * 1.25} fill={jet(cNorm(b))} opacity={0.52} />
        ))}
        <rect x={cbX} y={top} width={cbW} height={bottom - top} fill="none" stroke="#666" strokeWidth={fs > 5 ? 0.8 : 0.4} />
        {cbTicks.map((t) => (
          <g key={t}>
            <line x1={cbX + cbW} x2={cbX + cbW + tickLen} y1={cy(t)} y2={cy(t)} stroke="#555" strokeWidth={0.7} />
            <text x={cbX + cbW + tickLen + 0.35 * cbFs} y={cy(t)} dy="0.35em" fontSize={cbFs}>{t}</text>
          </g>
        ))}
        {showCbLabel && (
          <text transform={`translate(${cbX + cbW + fs * 5.9},${(top + bottom) / 2 + fs * 0.2}) rotate(-90)`} textAnchor="middle" fontSize={fs}>median_house_value</text>
        )}
      </g>
    </g>
  );
}

function Hist({ left, right, top, bottom, values, title }: any) {
  const x = d3.scaleLinear().domain([0, values.length]).range([left, right - 2]);
  const y = d3.scaleLinear().domain([0, 105]).range([bottom, top]);
  const gridX = d3.range(0, 7).map((i) => left + ((right - left) * i) / 6);
  const gridY = d3.range(0, 6).map((i) => top + ((bottom - top) * i) / 5);
  return (
    <g>
      {gridX.map((g, i) => <line key={"x" + i} x1={g} x2={g} y1={top} y2={bottom} stroke="#d8d8d8" strokeWidth={0.4} />)}
      {gridY.map((g, i) => <line key={"y" + i} x1={left} x2={right} y1={g} y2={g} stroke="#d8d8d8" strokeWidth={0.4} />)}
      {values.map((v: number, i: number) => (
        <rect key={i} x={x(i)} y={y(v)} width={x(1) - x(0)} height={bottom - y(v)} fill={BLUE} />
      ))}
      <rect x={left} y={top} width={right - left} height={bottom - top} fill="none" stroke="#aaa" strokeWidth={0.5} />
      <text x={(left + Math.min(right, 676)) / 2} y={top - 0.8} textAnchor="middle" fontSize={2.6} fill="#555" fontFamily={FONT}>{title}</text>
    </g>
  );
}

function BarPanel() {
  const x = d3.scaleLinear().domain([1, 5]).range([532.7, 678]);
  const y = d3.scaleLinear().domain([0, 7000]).range([245.3, 150.3]);
  const w = x(1.4) - x(1);
  return (
    <g fontFamily={FONT} fill="#444" fontSize={4.6}>
      {incomeBinStart.map((s, i) => (
        <rect key={s} x={x(s)} y={y(incomeBinCount[i])} width={w} height={y(0) - y(incomeBinCount[i])} fill={BLUE} stroke="#8fbfdc" strokeWidth={0.4} />
      ))}
      {incomeYTicks.map((t) => (
        <g key={t}>
          <line x1={525} x2={690} y1={y(t)} y2={y(t)} stroke="#c8c8c8" strokeOpacity={0.75} strokeWidth={0.7} />
          <text x={522} y={y(t)} dy="0.35em" textAnchor="end">{t}</text>
        </g>
      ))}
      {incomeXTicks.map((t) => (
        <g key={t}>
          <line x1={x(t)} x2={x(t)} y1={142} y2={245.3} stroke="#c8c8c8" strokeOpacity={0.75} strokeWidth={0.7} />
          <text x={Math.min(x(t), 675.5)} y={252} textAnchor="middle">{t.toFixed(1)}</text>
        </g>
      ))}
      <line x1={525} x2={525} y1={142} y2={245.3} stroke="#999" strokeWidth={0.5} />
      <line x1={525} x2={690} y1={142} y2={142} stroke="#999" strokeWidth={0.5} />
      <line x1={525} x2={690} y1={245.3} y2={245.3} stroke="#999" strokeWidth={0.5} />
    </g>
  );
}

function MatrixPanel() {
  const hx = d3.scaleLinear().domain([0, 10]).range([523.3, 602.3]);
  const hy = d3.scaleLinear().domain([0, 4750]).range([444, 393.3]);
  const ix = d3.scaleLinear().domain([0, 8]).range([606.7, 671]);
  const iy = d3.scaleLinear().domain([0, 7436]).range([498.3, 447.7]);
  const trX = d3.scaleLinear().domain([0, 15]).range([606.3, 688.5]);
  const trY = d3.scaleLinear().domain([0, 500]).range([444.3, 391.3]);
  const blX = d3.scaleLinear().domain([0, 500]).range([523.3, 602.3]);
  const blY = d3.scaleLinear().domain([0, 15]).range([498.5, 446]);
  const tickV = d3.scaleLinear().domain([0, 500000]).range([444.3, 391.3]);
  return (
    <g fontFamily={FONT} fontSize={2.6} fill="#555">
      {valueHistCounts.map((c, i) => <rect key={i} x={hx(i)} y={hy(c)} width={hx(1) - hx(0)} height={hy(0) - hy(c)} fill={BLUE} />)}
      {incomeHistCounts.map((c, i) => <rect key={i} x={ix(i)} y={iy(c)} width={ix(1) - ix(0)} height={iy(0) - iy(c)} fill={BLUE} />)}
      {matrixHalo.map((d, i) => <circle key={"ha" + i} cx={trX(d[0])} cy={trY(d[1])} r={4} fill={BLUE} opacity={0.07} />)}
      {matrixHalo.map((d, i) => <circle key={"h" + i} cx={trX(d[0])} cy={trY(d[1])} r={1.1} fill={BLUE} opacity={0.45} />)}
      {matrixCore.map((d, i) => <circle key={"c" + i} cx={trX(d[0])} cy={trY(d[1])} r={3.2} fill={BLUE} opacity={0.9} />)}
      {matrixHalo.map((d, i) => <circle key={"hba" + i} cx={blX(d[1])} cy={blY(d[0])} r={4} fill={BLUE} opacity={0.07} />)}
      {matrixHalo.map((d, i) => <circle key={"hb" + i} cx={blX(d[1])} cy={blY(d[0])} r={1.1} fill={BLUE} opacity={0.45} />)}
      {matrixCore.map((d, i) => <circle key={"cb" + i} cx={blX(d[1])} cy={blY(d[0])} r={3.0} fill={BLUE} opacity={0.9} />)}
      <line x1={520.7} x2={520.7} y1={390} y2={497} stroke="#bbb" strokeWidth={0.7} />
      <line x1={604} x2={604} y1={390} y2={497} stroke="#bbb" strokeWidth={0.7} />
      <line x1={520.7} x2={680} y1={390} y2={390} stroke="#bbb" strokeWidth={0.7} />
      <line x1={520.7} x2={680} y1={444.5} y2={444.5} stroke="#bbb" strokeWidth={0.7} />
      {matrixTickValue.map((t) => <text key={t} x={519} y={tickV(t)} dy="0.35em" textAnchor="end">{t}</text>)}
      {matrixTickIncome.map((t) => <text key={t} x={519} y={blY(t)} dy="0.35em" textAnchor="end">{t}</text>)}
      <text transform="translate(510,417) rotate(-90)" textAnchor="middle">median_house_value</text>
      <text transform="translate(510,472) rotate(-90)" textAnchor="middle">median_income</text>
    </g>
  );
}

const histCols = [[513, 561], [576, 623], [639, 687]];
const histRows = [[3.5, 37], [48, 83], [94, 129]];

export default function App() {
  return (
    <svg width={680} height={497} viewBox="0 0 680 497" style={{ position: "fixed", left: 0, top: 0, display: "block" }}>
      <defs>
        <filter id="soft" x="0" y="0" width="100%" height="100%"><feGaussianBlur stdDeviation={0.45} /></filter>
        <filter id="softer" x="0" y="0" width="100%" height="100%"><feGaussianBlur stdDeviation={0.6} /></filter>
      </defs>
      <rect width={680} height={497} fill="#18232e" />
      <rect x={494} y={0} width={12} height={497} fill="#3a495a" />
      <rect x={496.5} y={243} width={1.5} height={7} fill="#5d6c7c" />
      <rect x={505} y={0} width={175} height={497} fill="#0c1118" />
      <rect x={3} y={84} width={485} height={325} fill="#0f161e" />
      <rect x={4} y={85} width={483} height={323} fill="#fff" />
      <g filter="url(#soft)">
        <MapPanel left={38} right={396} top={94.7} bottom={399.5} rMax={8.5} cbX={418} cbW={16} fs={8} cbFs={8} tickLen={3.5} opacity={0.42}
          legend={{ x: 321, y: 99, w: 71.5, h: 14 }} showCbLabel />
      </g>
      <rect x={506.5} y={0} width={173.5} height={132} fill="#fff" />
      <rect x={506.5} y={137} width={173.5} height={120} fill="#fff" />
      <rect x={506} y={261.5} width={174} height={122} fill="#1d6fb8" />
      <rect x={507.5} y={263} width={172.5} height={119} fill="#fff" />
      <rect x={506.5} y={388} width={173.5} height={109} fill="#fff" />
      <g filter="url(#softer)">
        {histRows.flatMap((row, ri) => histCols.map((col, ci) => (
          <Hist key={ri + "-" + ci} left={col[0]} right={col[1]} top={row[0]} bottom={row[1]}
            values={histGrid[ri * 3 + ci]} title={histTitles[ri * 3 + ci]} />
        )))}
        <BarPanel />
        <MapPanel left={521} right={654} top={266} bottom={379} rMax={3.2} cbX={663} cbW={6} fs={3} cbFs={2.2} tickLen={1.3} opacity={0.42}
          legend={{ x: 627, y: 267, w: 26, h: 6 }} showCbLabel={false} />
        <MatrixPanel />
      </g>
    </svg>
  );
}
